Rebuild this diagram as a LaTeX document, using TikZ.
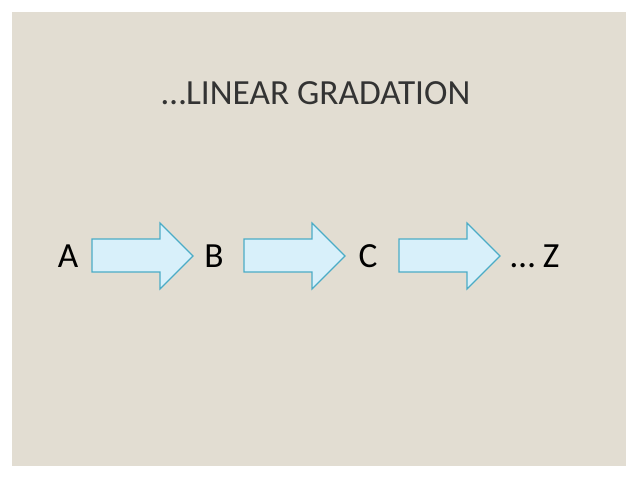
\documentclass[tikz,border=0pt]{standalone}
\usepackage{fontspec}
\setmainfont{Carlito}
\definecolor{bg}{HTML}{E2DDD2}
\definecolor{afill}{HTML}{D8F0FA}
\definecolor{aline}{HTML}{4BACC6}
\begin{document}
\begin{tikzpicture}[x=0.75pt,y=-0.75pt,
  lbl/.style={font=\fontsize{26.5}{30}\selectfont, inner sep=0pt},
  blk/.style={fill=afill, draw=aline, line width=0.9pt, line join=miter}]
\useasboundingbox (0,0) rectangle (638,478);
\fill[white] (0,0) rectangle (638,478);
\fill[bg] (12,12) rectangle (626,466);
\node[lbl, text=black!80] (title) at (316,93) {…LINEAR GRADATION};
\foreach \n/\x in {a1/92, a2/244, a3/399}{
  \draw[blk] (\x,239) -- ++(68,0) -- ++(0,-16) -- ++(33,33) -- ++(-33,33) -- ++(0,-17) -- (\x,272) -- cycle;
}
\node[lbl] (A) at (68,256) {A};
\node[lbl] (B) at (214,256) {B};
\node[lbl] (C) at (368,256) {C};
\node[lbl] (Z) at (535,256) {… Z};
\end{tikzpicture}
\end{document}
